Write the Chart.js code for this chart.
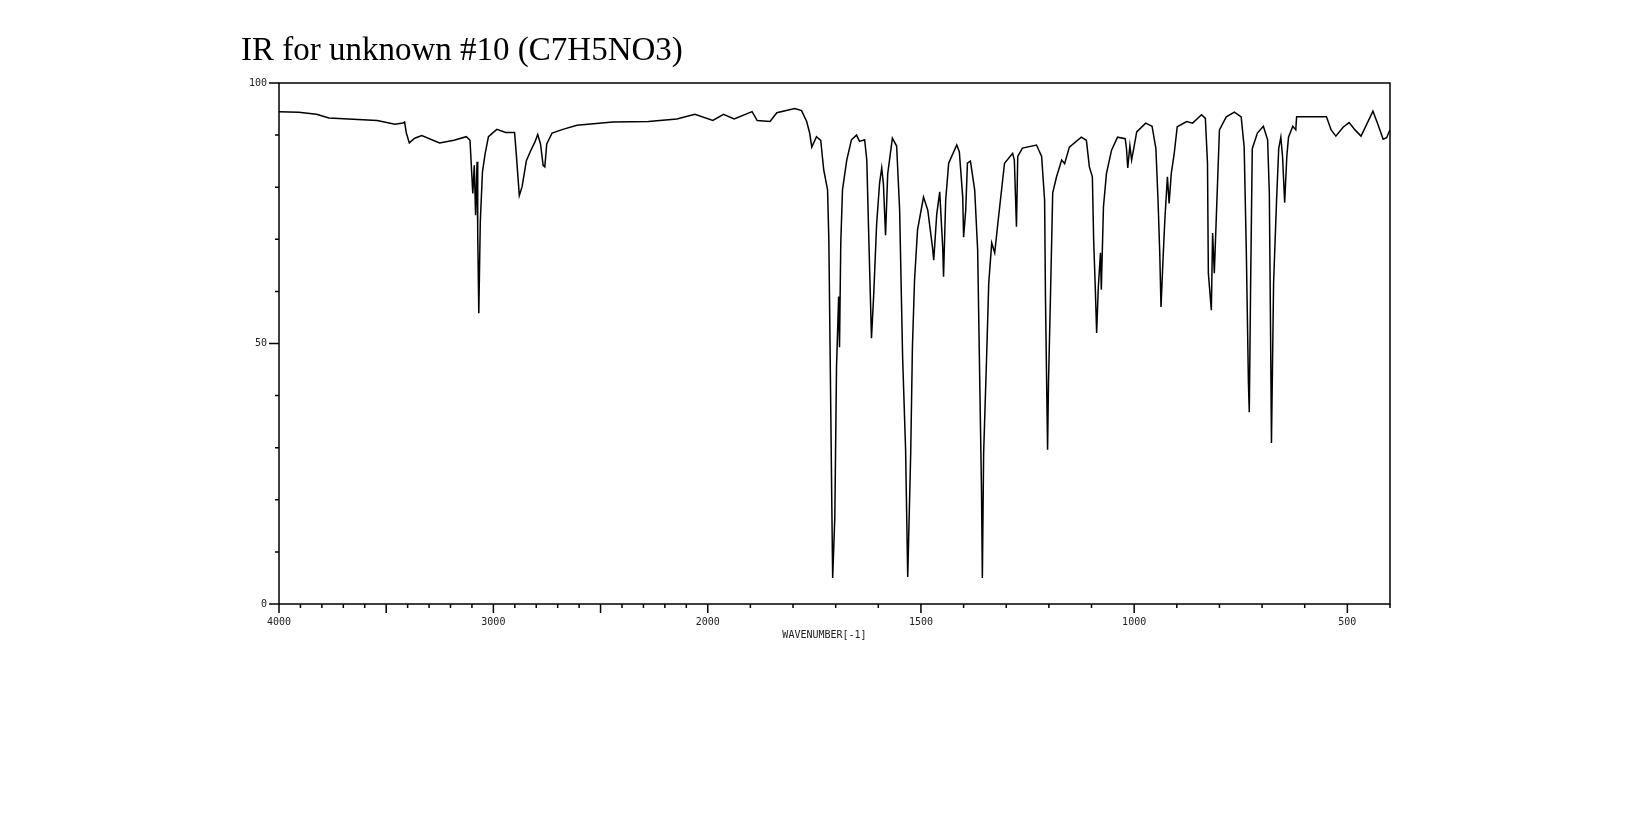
<!DOCTYPE html>
<html>
<head>
<meta charset="utf-8">
<script src="https://cdn.jsdelivr.net/npm/chart.js@4.4.1/dist/chart.umd.min.js"></script>
<style>
  html, body { margin: 0; padding: 0; background: #fff; }
  #wrap { position: relative; width: 1630px; height: 826px; }
  #title { position: absolute; left: 241px; top: 31px; font-family: "Liberation Serif", serif; font-size: 33px; color: #000; }
</style>
</head>
<body>
<div id="wrap">
  <div id="title">IR for unknown #10 (C7H5NO3)</div>
  <canvas id="irChart" width="1630" height="826"></canvas>
</div>
<script>
// spectrum
const wavenumbers = [4000,3908,3825,3767,3542,3459,3422,3414,3406,3392,3367,3334,3251,3184,3126,3109,3096,3089,3083,3076,3073,3068,3061,3051,3039,3023,2984,2943,2901,2893,2879,2866,2846,2826,2806,2793,2780,2768,2760,2751,2726,2676,2610,2443,2277,2144,2060,1988,1963,1938,1896,1884,1854,1838,1796,1780,1768,1761,1756,1745,1735,1728,1719,1716,1712,1709,1707,1702,1698,1693,1691,1688,1684,1674,1663,1651,1644,1632,1627,1623,1616,1611,1604,1597,1592,1588,1583,1578,1567,1557,1550,1543,1536,1531,1524,1520,1515,1508,1494,1484,1473,1470,1463,1456,1449,1447,1442,1435,1416,1410,1402,1400,1395,1391,1384,1374,1367,1363,1358,1356,1353,1346,1341,1334,1327,1320,1304,1285,1281,1276,1273,1262,1229,1217,1210,1208,1205,1203,1201,1196,1191,1182,1170,1163,1152,1124,1112,1105,1098,1095,1091,1088,1084,1079,1077,1072,1065,1053,1039,1021,1018,1015,1010,1006,1001,994,973,958,949,944,940,937,932,928,922,918,913,906,899,877,863,842,833,828,826,819,816,812,807,800,784,765,749,742,737,732,730,727,723,711,697,687,683,680,678,673,666,661,656,652,647,642,638,628,621,619,596,549,538,527,510,496,482,468,455,440,428,416,408,400];
const transmittance = [94.5,94.4,94,93.3,92.8,92.1,92.3,92.5,90.4,88.5,89.4,89.9,88.5,89,89.7,89,78.8,84.2,74.6,84.9,71.2,55.8,73.3,82.9,86.3,89.7,91.1,90.5,90.5,86.3,78.4,80.1,85.1,87,88.7,90.1,88.3,84.2,83.9,88.3,90.4,91.1,91.9,92.5,92.6,93.1,94,92.8,94,93.1,94.5,92.8,92.6,94.3,95.1,94.7,92.6,90.4,87.7,89.7,89,83.3,79.5,69.9,41.1,18.7,5,16.7,45.5,59,49.3,69.3,79.5,85.2,89.1,90,88.8,89.1,85.2,72.4,51,59,72.8,80.8,83.7,80.6,70.8,82.5,89.4,87.9,75.6,47.4,29.6,5.2,29,49.3,62.2,71.8,78.1,75.6,68.5,66,74.8,79.1,68.5,62.8,77.5,84.6,88.1,86.8,78.1,70.4,75.6,84.6,85,79.5,67.9,47.4,21.9,5,29,47.4,61.6,69.3,67.4,72.8,84.6,86.5,85.2,72.4,85.9,87.5,88.1,85.9,77.5,59,41.1,29.6,42,60,78.9,82,85.2,84.5,87.7,89.6,89,83.9,82,69.9,60.3,52,60.9,67.4,60.3,76.2,82.6,87.1,89.6,89.3,87.4,83.7,88,85.2,87.4,90.6,92.3,91.7,87.4,77.5,67.4,57,66.7,73.8,82,76.9,82.6,86.5,91.6,92.6,92.3,93.9,93.2,84.6,63.5,56.4,71.2,63.5,75,91,93.5,94.4,93.5,87.7,67.9,42.4,36.8,60.3,87.4,90.4,91.7,89.1,78.9,51.3,30.9,61.6,77.5,87.4,89.6,85.9,77,85.9,89.6,91.7,91,93.5,93.5,93.5,91,89.8,91.5,92.4,91,89.8,92,94.6,92,89.2,89.5,91];
const xTickLabels = [4000, 3000, 2000, 1500, 1000, 500];
const yTickLabels = [0, 50, 100];

// the wavenumber axis changes scale at 2000 cm-1
function axisPos(wn) {
    if (wn >= 2000) return (4000 - wn) / 2000 * 429;
    return 429 + (2000 - wn) / 1500 * 640;
}
const xMax = axisPos(400);

const points = wavenumbers.map((wn, i) => ({ x: axisPos(wn), y: transmittance[i] }));

const minorWn = [];
for (let w = 4000; w >= 400; w -= 100) minorWn.push(w);

// frame and tick marks drawn on the chart scales
const frameTicks = {
    id: 'frameTicks',
    afterDraw(chart) {
        const c = chart.ctx, a = chart.chartArea;
        const xs = chart.scales.x, ys = chart.scales.y;
        c.save();
        c.strokeStyle = '#000';
        c.lineWidth = 1.5;
        c.strokeRect(a.left, a.top, a.right - a.left, a.bottom - a.top);
        c.beginPath();
        minorWn.forEach(w => {
            const px = xs.getPixelForValue(axisPos(w));
            const len = (w % 500 === 0) ? 9 : 4;
            c.moveTo(px, a.bottom);
            c.lineTo(px, a.bottom + len);
        });
        for (let v = 0; v <= 100; v += 10) {
            const py = ys.getPixelForValue(v);
            const len = (v % 50 === 0) ? 10 : 4;
            c.moveTo(a.left, py);
            c.lineTo(a.left - len, py);
        }
        c.stroke();
        c.fillStyle = '#222';
        c.font = '10px "DejaVu Sans Mono", monospace';
        c.textAlign = 'center';
        c.textBaseline = 'top';
        xTickLabels.forEach(w => {
            c.fillText(String(w), xs.getPixelForValue(axisPos(w)), a.bottom + 13);
        });
        c.fillText('WAVENUMBER[-1]', (a.left + a.right) / 2 - 10, a.bottom + 26);
        c.textAlign = 'right';
        c.textBaseline = 'middle';
        yTickLabels.forEach(v => {
            c.fillText(String(v), a.left - 12, ys.getPixelForValue(v));
        });
        c.restore();
    }
};

new Chart(document.getElementById('irChart'), {
    type: 'line',
    data: {
        datasets: [{
            data: points,
            borderColor: '#000',
            borderWidth: 1.5,
            pointRadius: 0,
            tension: 0,
            fill: false
        }]
    },
    options: {
        responsive: false,
        animation: false,
        events: [],
        layout: { padding: { left: 0, top: 83, right: 240, bottom: 0 } },
        plugins: { legend: { display: false }, tooltip: { enabled: false } },
        scales: {
            x: {
                type: 'linear', min: 0, max: xMax,
                grid: { display: false }, border: { display: false },
                ticks: { display: false },
                afterFit(scale) { scale.height = 222; }
            },
            y: {
                min: 0, max: 100,
                grid: { display: false }, border: { display: false },
                ticks: { display: false },
                afterFit(scale) { scale.width = 279; }
            }
        }
    },
    plugins: [frameTicks]
});
</script>
</body>
</html>
